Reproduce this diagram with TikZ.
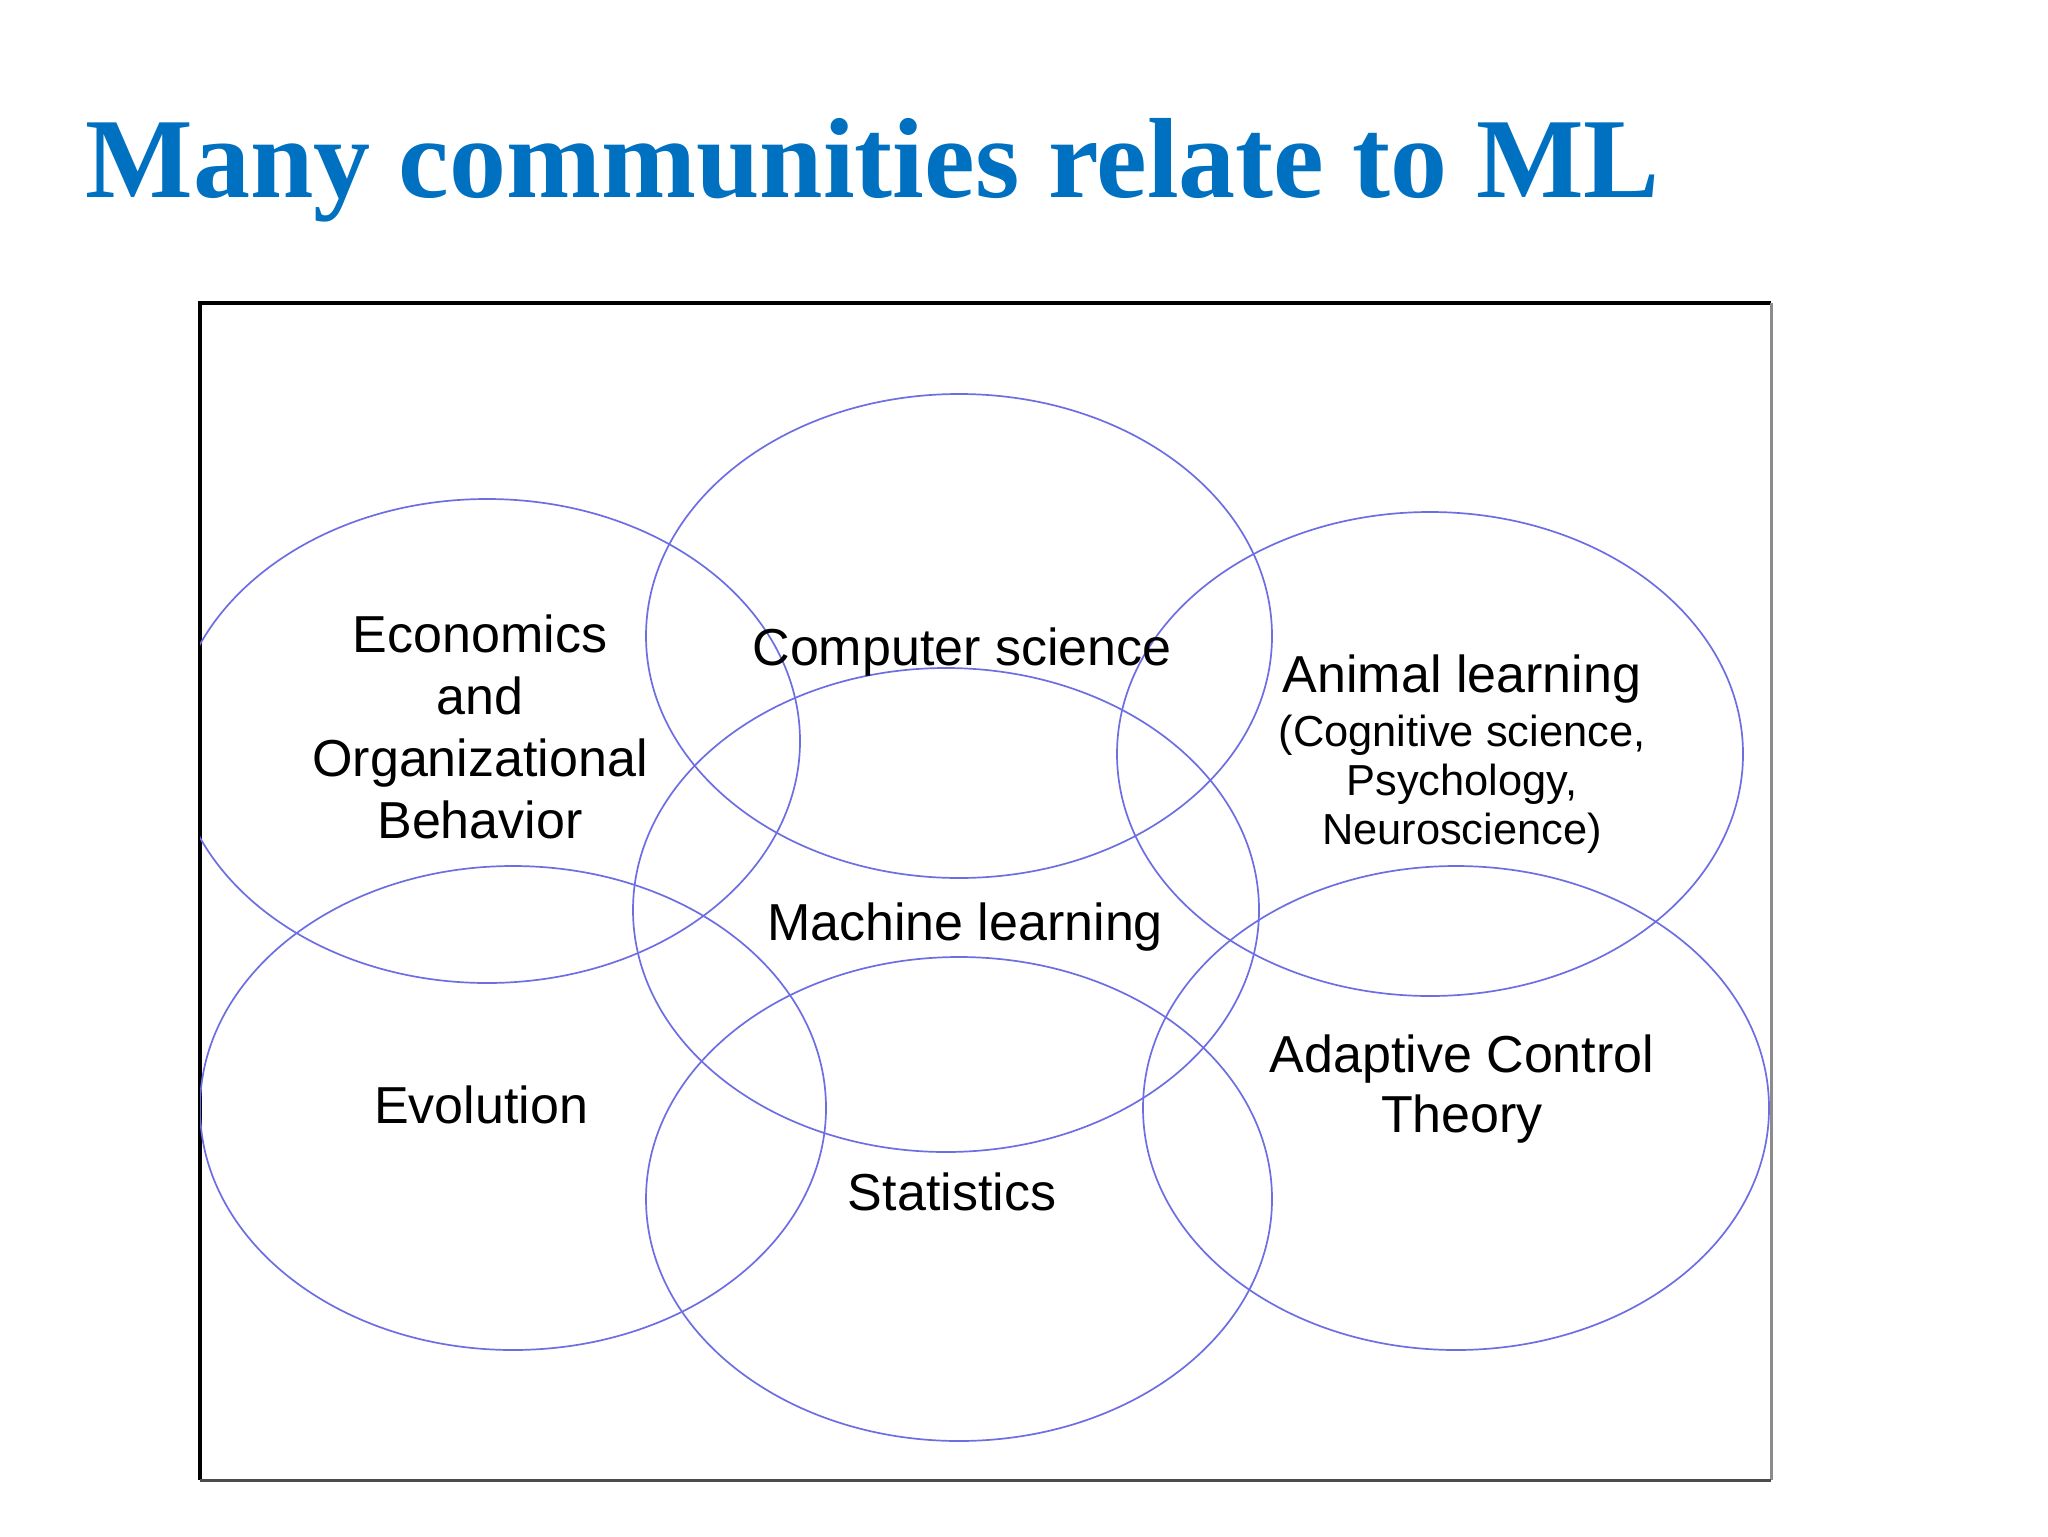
\documentclass[tikz,border=0pt]{standalone}
\usepackage{fontspec}
\setmainfont{Liberation Sans}
\newfontfamily\titlefont{Liberation Serif}
\definecolor{titleblue}{RGB}{0,112,192}
\definecolor{ringblue}{RGB}{110,110,228}
\begin{document}
\begin{tikzpicture}[x=0.5pt,y=-0.5pt,
  ring/.style={draw=ringblue,line width=0.85pt},
  lbl/.style={font=\fontsize{26pt}{31pt}\selectfont, align=center, inner sep=0pt, anchor=base},
  sublbl/.style={font=\fontsize{21.7pt}{24.5pt}\selectfont, align=center, inner sep=0pt, anchor=base}]
\useasboundingbox (0,0) rectangle (2048,1536);
\fill[white] (0,0) rectangle (2048,1536);
\node[anchor=base west, inner sep=0pt, text=titleblue, font=\titlefont\fontsize{57pt}{60pt}\selectfont\bfseries] (title) at (85,197) {Many communities relate to ML};
% frame
\draw[black, line width=1.8pt] (200,1480) -- (200,303) -- (1771,303);
\draw[black!45, line width=1.5pt] (1771,303) -- (1771,1480);
\draw[black!70, line width=1.5pt] (200,1480) -- (1771,1480);
% rings
\begin{scope}
\clip (200,303) rectangle (1771,1480);
\draw[ring] (487,741) ellipse [x radius=156.5pt, y radius=121pt];
\draw[ring] (959,636) ellipse [x radius=156.5pt, y radius=121pt];
\draw[ring] (1430,754) ellipse [x radius=156.5pt, y radius=121pt];
\draw[ring] (946,910) ellipse [x radius=156.5pt, y radius=121pt];
\draw[ring] (513,1108) ellipse [x radius=156.5pt, y radius=121pt];
\draw[ring] (959,1199) ellipse [x radius=156.5pt, y radius=121pt];
\draw[ring] (1456,1108) ellipse [x radius=156.5pt, y radius=121pt];
\end{scope}
% labels (multi-line nodes are anchored at the baseline of their last line)
\node[lbl] (econ) at (480,838) {Economics\\and\\Organizational\\Behavior};
\node[lbl] (cs) at (962,665) {Computer science};
\node[lbl] (animal) at (1462,692) {Animal learning};
\node[sublbl] (animalsub) at (1462,844) {(Cognitive science,\\Psychology,\\Neuroscience)};
\node[lbl] (ml) at (965,940) {Machine learning};
\node[lbl] (evo) at (481,1123) {Evolution};
\node[lbl, font=\fontsize{26pt}{30pt}\selectfont] (adapt) at (1462,1132) {Adaptive Control\\Theory};
\node[lbl] (stats) at (952,1210) {Statistics};
\end{tikzpicture}
\end{document}
